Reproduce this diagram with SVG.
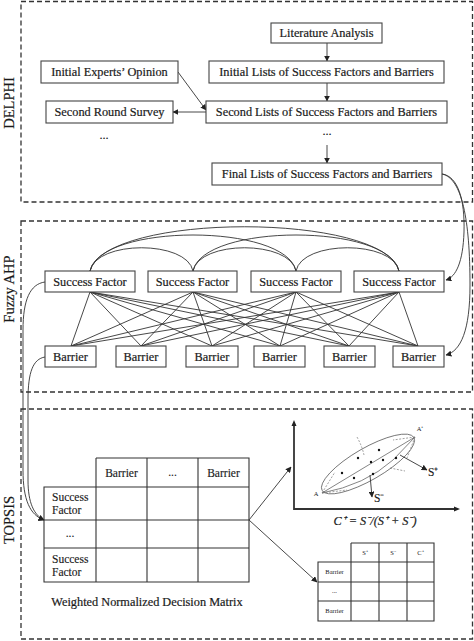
<svg xmlns="http://www.w3.org/2000/svg" width="474" height="641" viewBox="0 0 474 641">
<defs>
<style>
.frame{fill:none;stroke:#333;stroke-width:1.3;stroke-dasharray:5,3}
.box{fill:#fff;stroke:#444;stroke-width:1.1}
.t{font-family:"Liberation Serif",serif;font-size:12.3px;fill:#1a1a1a;stroke:#1a1a1a;stroke-width:0.2;text-anchor:middle}
.lbl{font-family:"Liberation Serif",serif;font-size:14.5px;fill:#1a1a1a;stroke:#1a1a1a;stroke-width:0.2;text-anchor:middle}
.c{font-family:"Liberation Serif",serif;font-size:11.5px;fill:#1a1a1a;stroke:#1a1a1a;stroke-width:0.15}
.tiny{font-family:"Liberation Serif",serif;font-size:6.5px;fill:#222;text-anchor:middle}
.ln{fill:none;stroke:#333;stroke-width:0.9}
.ar{fill:none;stroke:#333;stroke-width:0.9;marker-end:url(#ah)}
.grid{fill:none;stroke:#333;stroke-width:1.1}
.dash{fill:none;stroke:#777;stroke-width:0.7;stroke-dasharray:2,1.5}
</style>
<marker id="ah" viewBox="0 0 10 10" refX="9" refY="5" markerWidth="6" markerHeight="6" markerUnits="userSpaceOnUse" orient="auto">
<path d="M0,0 L10,5 L0,10 z" fill="#222"/>
</marker>
</defs>
<rect width="474" height="641" fill="#fff"/>

<g id="frames">
<rect class="frame" x="21" y="1.5" width="451.5" height="200.5"/>
<rect class="frame" x="21" y="221" width="451.5" height="171"/>
<rect class="frame" x="21" y="409" width="451.5" height="230"/>
<text class="lbl" transform="translate(13.5,103) rotate(-90)">DELPHI</text>
<text class="lbl" transform="translate(13.5,289) rotate(-90)">Fuzzy AHP</text>
<text class="lbl" transform="translate(13.5,520) rotate(-90)">TOPSIS</text>
</g>

<g id="connectors">
<path class="ar" d="M327,43 L327,61"/>
<path class="ar" d="M327,83 L327,101"/>
<path class="ar" d="M327,145 L327,163"/>
<path class="ar" d="M178,72 L206,110"/>
<path class="ar" d="M206,112 L173,112"/>
<path class="ar" d="M442,174 C458,176 465,200 464,232 C463,262 456,277 446,280"/>
<path class="ar" d="M442,174 C462,178 470,220 470,285 C470,330 461,351 446,355"/>
<path class="ln" d="M90,271 C96,240 187,240 193,271"/>
<path class="ln" d="M193,271 C199,240 290,240 296,271"/>
<path class="ln" d="M296,271 C302,240 393,240 399,271"/>
<path class="ln" d="M90,271 C100,223 286,223 296,271"/>
<path class="ln" d="M193,271 C203,223 389,223 399,271"/>
<path class="ln" d="M90,271 C105,212 384,212 399,271"/>
<g class="ln">
<path d="M90,292 L71,346 M90,292 L141,346 M90,292 L212,346 M90,292 L280,346 M90,292 L349,346 M90,292 L418,346"/>
<path d="M193,292 L71,346 M193,292 L141,346 M193,292 L212,346 M193,292 L280,346 M193,292 L349,346 M193,292 L418,346"/>
<path d="M296,292 L71,346 M296,292 L141,346 M296,292 L212,346 M296,292 L280,346 M296,292 L349,346 M296,292 L418,346"/>
<path d="M399,292 L71,346 M399,292 L141,346 M399,292 L212,346 M399,292 L280,346 M399,292 L349,346 M399,292 L418,346"/>
</g>
<path class="ar" d="M45,282 C30,284 23,300 23,330 L23,470 C23,500 30,515 44,520"/>
<path class="ar" d="M45,357 C33,359 28,372 28,400 L28,480 C28,503 34,515 44,520"/>
<path class="ar" d="M249,520 L291,467"/>
<path class="ar" d="M249,520 L317,582"/>
</g>

<g id="n-literature"><rect class="box" x="271" y="23" width="111" height="20"/><text class="t" x="326.5" y="37">Literature Analysis</text></g>
<g id="n-initial-lists"><rect class="box" x="209" y="61" width="235" height="22"/><text class="t" x="326.5" y="76">Initial Lists of Success Factors and Barriers</text></g>
<g id="n-experts"><rect class="box" x="41" y="61" width="137" height="22"/><text class="t" x="109.5" y="76">Initial Experts’ Opinion</text></g>
<g id="n-second-survey"><rect class="box" x="46" y="101" width="127" height="22"/><text class="t" x="109.5" y="116">Second Round Survey</text></g>
<g id="n-second-lists"><rect class="box" x="206" y="101" width="241" height="22"/><text class="t" x="326.5" y="116">Second Lists of Success Factors and Barriers</text></g>
<g id="n-dots1"><text class="t" x="104" y="139" font-size="9">...</text></g>
<g id="n-dots2"><text class="t" x="327" y="135" font-size="9">...</text></g>
<g id="n-final-lists"><rect class="box" x="212" y="163" width="230" height="22"/><text class="t" x="327" y="178">Final Lists of Success Factors and Barriers</text></g>

<g id="n-sf1"><rect class="box" x="45" y="271" width="90" height="21"/><text class="t" x="90" y="286">Success Factor</text></g>
<g id="n-sf2"><rect class="box" x="148" y="271" width="89" height="21"/><text class="t" x="192.5" y="286">Success Factor</text></g>
<g id="n-sf3"><rect class="box" x="251" y="271" width="90" height="21"/><text class="t" x="296" y="286">Success Factor</text></g>
<g id="n-sf4"><rect class="box" x="354" y="271" width="90" height="21"/><text class="t" x="399" y="286">Success Factor</text></g>

<g id="n-b1"><rect class="box" x="45" y="346" width="51" height="21"/><text class="t" x="70.5" y="361">Barrier</text></g>
<g id="n-b2"><rect class="box" x="116" y="346" width="50" height="21"/><text class="t" x="141" y="361">Barrier</text></g>
<g id="n-b3"><rect class="box" x="186" y="346" width="52" height="21"/><text class="t" x="212" y="361">Barrier</text></g>
<g id="n-b4"><rect class="box" x="254" y="346" width="51" height="21"/><text class="t" x="279.5" y="361">Barrier</text></g>
<g id="n-b5"><rect class="box" x="324" y="346" width="51" height="21"/><text class="t" x="349.5" y="361">Barrier</text></g>
<g id="n-b6"><rect class="box" x="393" y="346" width="51" height="21"/><text class="t" x="418.5" y="361">Barrier</text></g>

<g id="n-matrix">
<path class="grid" d="M96,458 H249 V582 H44 V487 H249 M44,520 H249 M44,548 H249 M96,458 V582 M147,458 V582 M198,458 V582"/>
<text class="c" x="121.5" y="477" text-anchor="middle">Barrier</text>
<text class="c" x="172.5" y="476" text-anchor="middle" font-size="9">...</text>
<text class="c" x="223.5" y="477" text-anchor="middle">Barrier</text>
<text class="c" x="52" y="501">Success</text>
<text class="c" x="52" y="514">Factor</text>
<text class="c" x="70" y="537" text-anchor="middle" font-size="9">...</text>
<text class="c" x="52" y="563">Success</text>
<text class="c" x="52" y="576">Factor</text>
<text class="t" x="147" y="606" font-size="12.5">Weighted Normalized Decision Matrix</text>
</g>

<g id="n-graph">
<path fill="none" stroke="#333" stroke-width="1.8" d="M294,424 V509 H456"/>
<path d="M294,420 L291.5,426 L296.5,426 z M460,509 L454,506.5 L454,511.5 z" fill="#222"/>
<ellipse cx="368" cy="464" rx="53" ry="16" transform="rotate(-30 368 464)" fill="none" stroke="#666" stroke-width="0.8"/>
<path fill="none" stroke="#666" stroke-width="0.8" d="M322,493 L415,437 M322,493 Q365,485 393,460 L415,437"/>
<path class="dash" d="M322,493 L335,472 M322,493 L347,490 M415,437 L393,440 M415,437 L407,458 M357,437 Q362,446 364,455 M390,468 L405,471"/>
<g fill="#111">
<circle cx="358" cy="458" r="1.2"/><circle cx="379" cy="450" r="1.2"/><circle cx="371" cy="462" r="1.2"/><circle cx="383" cy="460" r="1.2"/>
<circle cx="396" cy="458" r="1.2"/><circle cx="342" cy="473" r="1.2"/><circle cx="354" cy="478" r="1.2"/><circle cx="373" cy="474" r="1.2"/>
</g>
<path class="ar" d="M400,455 L427,470"/>
<path class="ar" d="M370,475 L372,497"/>
<text class="tiny" x="316" y="496">A</text>
<text class="tiny" x="420" y="431">A⁺</text>
<text class="c" x="428" y="476" font-size="11">S⁺</text>
<text class="c" x="374" y="502" font-size="11">S⁻</text>
<text class="t" x="375" y="525" font-style="italic" font-size="12">C⁺ = S⁻/(S⁺ + S⁻)</text>
</g>

<g id="n-result-table">
<path class="grid" d="M351,543 H434 V621 H318 V562 H434 M318,582 H434 M318,601 H434 M351,543 V621 M379,543 V621 M407,543 V621"/>
<text class="tiny" x="365" y="555">S⁺</text>
<text class="tiny" x="393" y="555">S⁻</text>
<text class="tiny" x="420.5" y="555">C⁺</text>
<text class="tiny" x="334.5" y="574">Barrier</text>
<text class="tiny" x="334.5" y="593">...</text>
<text class="tiny" x="334.5" y="613">Barrier</text>
</g>
</svg>
